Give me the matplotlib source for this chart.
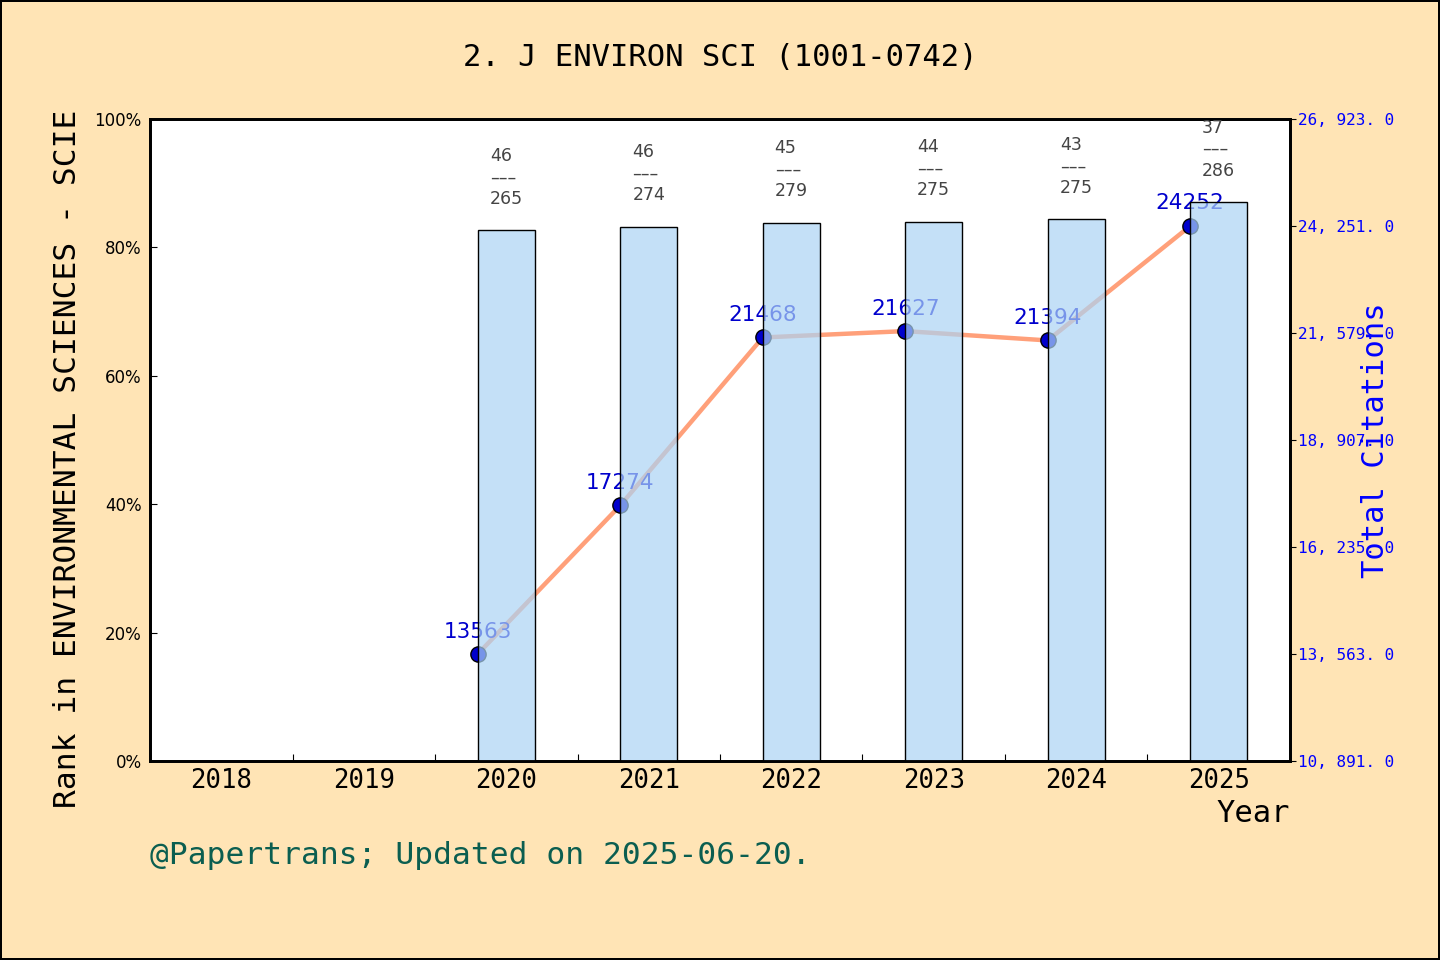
import matplotlib.pyplot as plt
import numpy as np

years = ["2018", "2019", "2020", "2021", "2022", "2023", "2024", "2025"]
rank = [None, None, 46, 46, 45, 44, 43, 37]
total = [None, None, 265, 274, 279, 275, 275, 286]
citations = [None, None, 13563, 17274, 21468, 21627, 21394, 24252]
cite_limits = [10891.0, 26923.0]

mono = "DejaVu Sans Mono"

fig = plt.figure(figsize=(14.4, 9.6), dpi=100, facecolor="#FFE4B5",
                 edgecolor="black", linewidth=1.5)
ax = fig.add_axes([0.1042, 0.2073, 0.7916, 0.6687])
ax2 = ax.twinx()

x = np.arange(len(years))

# citations line on the right axis (drawn under the bars)
cx = [i - 0.2 for i, c in zip(x, citations) if c is not None]
cy = [c for c in citations if c is not None]
ax2.plot(cx, cy, color="#FFA07A", lw=3.2, marker="o", markersize=11,
         markerfacecolor="#0000CD", markeredgecolor="black", markeredgewidth=1)
for px, py in zip(cx, cy):
    ax2.annotate(str(py), (px, py), xytext=(0, 9), textcoords="offset points",
                 ha="center", va="bottom", color="#0000CD", fontsize=15.5)
ax2.set_ylim(cite_limits)
ticks = np.linspace(cite_limits[0], cite_limits[1], 7)
ax2.set_yticks(ticks)
ax2.set_yticklabels([f"{t:,.1f}".replace(",", ", ").replace(".", ". ") for t in ticks],
                    color="blue", fontsize=11.5, family=mono)
ax2.tick_params(axis="y", direction="out", length=4, width=0.8, pad=2)
ax2.set_ylabel("Total Citations", color="blue", fontsize=22, family=mono, labelpad=-24)

# rank bars on the left axis, on top with some transparency
bx = [i for i, r in zip(x, rank) if r is not None]
bh = [1 - r / t for r, t in zip(rank, total) if r is not None]
ax.bar(bx, bh, width=0.4, color=(0.67, 0.83, 0.96, 0.7), edgecolor="black", linewidth=1)
for i, h, r, t in zip(bx, bh, [r for r in rank if r], [t for t in total if t]):
    ax.text(i, h + 0.035, f"{r}\n–––\n{t}", ha="center", va="bottom",
            multialignment="left", color="#444444", fontsize=12.5, linespacing=1.25)

ax.set_zorder(ax2.get_zorder() + 1)
ax.patch.set_visible(False)
ax2.patch.set_visible(True)
ax2.patch.set_facecolor("white")

ax.set_xlim(-0.5, len(years) - 0.5)
ax.set_ylim(0, 1)
ax.set_xticks(x)
ax.set_xticklabels(years, fontsize=18.5, family=mono)
ax.set_xticks(x[:-1] + 0.5, minor=True)
ax.tick_params(axis="x", which="major", length=0, pad=5)
ax.tick_params(axis="x", which="minor", direction="in", length=5, width=0.8)
ax.set_yticks(np.linspace(0, 1, 6))
ax.set_yticklabels([f"{int(v * 100)}%" for v in np.linspace(0, 1, 6)], fontsize=12)
ax.tick_params(axis="y", direction="in", length=5, width=0.8, pad=6)
ax.set_ylabel("Rank in ENVIRONMENTAL SCIENCES - SCIE", fontsize=22.5, family=mono)
ax.yaxis.set_label_coords(-0.06, 0.47)
ax.set_xlabel("Year", fontsize=22, family=mono, loc="right", labelpad=4)

for a in (ax, ax2):
    for s in a.spines.values():
        s.set_linewidth(2)

fig.text(0.5, 0.94, "2. J ENVIRON SCI (1001-0742)", ha="center", va="center",
         fontsize=22, family=mono)
fig.text(0.1042, 0.109, "@Papertrans; Updated on 2025-06-20.", ha="left", va="center",
         fontsize=22.5, family=mono, color="#0B5E50")

fig.savefig("out.png", dpi=100, facecolor=fig.get_facecolor(), edgecolor="black")
